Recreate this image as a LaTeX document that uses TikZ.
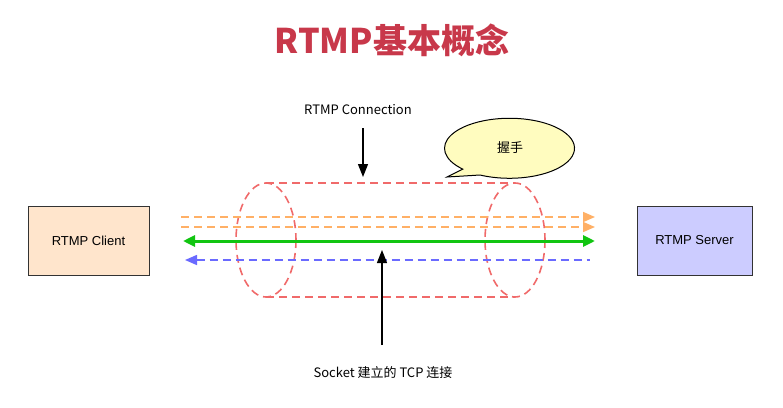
\documentclass[tikz,border=0pt]{standalone}
\usepackage{fontspec}
\setmainfont{Liberation Sans}
\newfontfamily\cjk{Noto Sans CJK SC}
\usetikzlibrary{arrows.meta}
\definecolor{ttl}{HTML}{C8384A}
\definecolor{cyl}{HTML}{F06A6A}
\definecolor{org}{HTML}{FFB066}
\definecolor{grn}{HTML}{11C511}
\definecolor{blu}{HTML}{6A6AFF}
\tikzset{box/.style={draw=black!80,line width=0.8pt,minimum width=121pt,minimum height=69pt,font=\fontsize{13}{15}\selectfont},
lbl/.style={font=\cjk\fontsize{13}{15}\selectfont},
dsh/.style={dash pattern=on 8pt off 5pt,line width=1.6pt}}
\begin{document}
\begin{tikzpicture}[x=1pt,y=-1pt]
\useasboundingbox (0,0) rectangle (783,407);
\node[font=\cjk\bfseries\fontsize{34}{38}\selectfont,text=ttl] (title) at (392,40) {RTMP基本概念};
\node[box,fill=orange!20!white] (client) at (88.5,240.5) {RTMP Client};
\node[box,fill=blue!20!white,minimum width=115pt] (server) at (694.5,240.5) {RTMP Server};
% cylinder
\draw[cyl,dsh] (266,240) ellipse [x radius=30,y radius=57];
\draw[cyl,dsh] (515,240) ellipse [x radius=30,y radius=57];
\draw[cyl,dsh] (266,183) -- (515,183) (266,297) -- (515,297);
% lines
\coordinate (o1a) at (181,217); \coordinate (o1b) at (595,217);
\coordinate (o2a) at (181,227); \coordinate (o2b) at (595,227);
\coordinate (ga) at (183,241); \coordinate (gb) at (595,241);
\coordinate (ba) at (185,260); \coordinate (bb) at (590,260);
\draw[org,dsh,-{Triangle[length=12pt,width=10pt]}] (o1a) -- (o1b);
\draw[org,dsh,-{Triangle[length=12pt,width=10pt]}] (o2a) -- (o2b);
\draw[grn,line width=3pt,{Triangle[length=12pt,width=11pt]}-{Triangle[length=12pt,width=11pt]}] (ga) -- (gb);
\draw[blu,dsh,{Triangle[length=12pt,width=10pt]}-] (ba) -- (bb);
% labels
\node[lbl] (conn) at (358,110) {RTMP Connection};
\node[lbl] (sock) at (383,373) {Socket 建立的 TCP 连接};
\coordinate (ct) at (363,177);
\coordinate (st) at (382,250);
\draw[line width=1.3pt,-{Triangle[length=13pt,width=10pt]}] (363,128) -- (ct);
\draw[line width=1.3pt,-{Triangle[length=13pt,width=10pt]}] (382,345) -- (st);
% callout
\draw[line width=1pt,fill=yellow!25!white] (480,175)
  arc[start angle=117,end angle=-224,x radius=65,y radius=30] -- (447,177) -- cycle;
\node[lbl] (hs) at (510,148) {握手};
\end{tikzpicture}
\end{document}
